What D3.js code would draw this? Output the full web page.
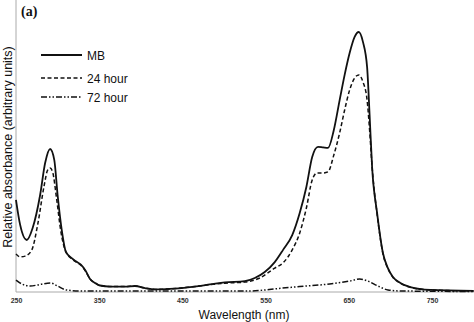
<!DOCTYPE html>
<html><head><meta charset="utf-8">
<script src="https://cdn.jsdelivr.net/npm/d3@7"></script>
<style>body{margin:0;background:#fff}svg{display:block}</style>
</head><body>
<script>
const xTicks = [250, 350, 450, 550, 650, 750];
const mbData = [[250,0.354],[255,0.258],[263,0.2],[270,0.246],[279,0.373],[285,0.496],[291,0.55],[296,0.508],[300,0.373],[305,0.238],[310,0.154],[317,0.13],[322,0.118],[328,0.105],[334,0.08],[339,0.05],[345,0.035],[351,0.025],[363,0.021],[381,0.021],[393,0.023],[405,0.015],[417,0.01],[435,0.012],[459,0.019],[483,0.029],[501,0.037],[525,0.042],[537,0.054],[549,0.077],[561,0.115],[571,0.162],[582,0.219],[591,0.304],[599,0.404],[606,0.519],[613,0.558],[619,0.556],[625,0.554],[632,0.623],[639,0.738],[645,0.835],[651,0.919],[657,0.981],[662,1.0],[667,0.962],[672,0.865],[675,0.681],[678,0.481],[684,0.304],[691,0.15],[697,0.092],[703,0.058],[712,0.035],[724,0.019],[748,0.008],[800,0.004]];
const h24Data = [[250,0.146],[255,0.135],[261,0.138],[269,0.162],[276,0.258],[284,0.412],[288,0.469],[291,0.477],[294,0.462],[299,0.354],[304,0.231],[310,0.154],[317,0.128],[322,0.116],[328,0.103],[334,0.078],[339,0.05],[345,0.035],[351,0.025],[363,0.021],[381,0.021],[393,0.023],[405,0.015],[417,0.01],[435,0.012],[459,0.019],[483,0.028],[501,0.034],[525,0.038],[543,0.054],[561,0.092],[571,0.112],[582,0.162],[591,0.227],[599,0.323],[606,0.431],[612,0.458],[619,0.458],[625,0.462],[632,0.527],[639,0.612],[645,0.7],[651,0.777],[657,0.823],[662,0.835],[667,0.808],[672,0.738],[675,0.623],[678,0.481],[684,0.3],[691,0.148],[697,0.09],[703,0.057],[712,0.034],[724,0.018],[748,0.008],[800,0.004]];
const h72Data = [[250,0.046],[257,0.031],[267,0.023],[279,0.029],[291,0.035],[300,0.023],[310,0.008],[327,0.004],[400,0.004],[531,0.004],[543,0.006],[561,0.012],[591,0.021],[627,0.031],[651,0.042],[663,0.05],[673,0.042],[685,0.023],[697,0.008],[712,0.004],[800,0.002]];
const legendLabels = ["MB", "24 hour", "72 hour"];

const W = 474, H = 322;
const svg = d3.select("body").append("svg").attr("width", W).attr("height", H);
const x = d3.scaleLinear().domain([250, 800]).range([16, 473.6]);
const y = d3.scaleLinear().domain([0, 1]).range([292, 32]);

// axes
svg.append("line").attr("x1", 16).attr("x2", 16).attr("y1", 0).attr("y2", 292).attr("stroke", "#aaa").attr("stroke-width", 1);
svg.append("line").attr("x1", 16).attr("x2", 474).attr("y1", 292).attr("y2", 292).attr("stroke", "#aaa").attr("stroke-width", 1);
const xAxis = d3.axisBottom(x).tickValues(xTicks).tickSize(0).tickPadding(6).tickFormat(d3.format("d"));
const gx = svg.append("g").attr("transform", "translate(0,292)").call(xAxis);
gx.select(".domain").remove();
gx.selectAll("text").attr("font-family", "Liberation Sans, Arial, sans-serif").attr("font-size", 7).attr("font-weight", "bold").attr("fill", "#333");

const line = d3.line().x(d => x(d[0])).y(d => y(d[1])).curve(d3.curveMonotoneX);
const series = [
  {data: mbData, dash: null, w: 1.8},
  {data: h24Data, dash: "4,2.5", w: 1.5},
  {data: h72Data, dash: "6,2,1.5,2,1.5,2", w: 1.5}
];
series.forEach(s => {
  svg.append("path").attr("d", line(s.data)).attr("fill", "none").attr("stroke", "#111")
    .attr("stroke-width", s.w).attr("stroke-dasharray", s.dash);
});

// legend
const ly = [55, 78, 97];
series.forEach((s, i) => {
  svg.append("line").attr("x1", 41).attr("x2", 82).attr("y1", ly[i]).attr("y2", ly[i])
    .attr("stroke", "#111").attr("stroke-width", s.w).attr("stroke-dasharray", s.dash);
  svg.append("text").attr("x", 87).attr("y", ly[i] + 4.5).text(legendLabels[i])
    .attr("font-family", "Liberation Sans, Arial, sans-serif").attr("font-size", 12).attr("fill", "#111");
});

// labels
svg.append("text").attr("x", 244).attr("y", 319).attr("text-anchor", "middle").text("Wavelength (nm)")
  .attr("font-family", "Liberation Sans, Arial, sans-serif").attr("font-size", 12).attr("fill", "#111");
svg.append("text").attr("transform", "translate(12,147) rotate(-90)").attr("text-anchor", "middle")
  .text("Relative absorbance (arbitrary units)")
  .attr("font-family", "Liberation Sans, Arial, sans-serif").attr("font-size", 12.5).attr("fill", "#111");
svg.append("text").attr("x", 21).attr("y", 16).text("(a)")
  .attr("font-family", "Liberation Serif, Times New Roman, serif").attr("font-size", 14).attr("font-weight", "bold").attr("fill", "#111");
</script>
</body></html>
